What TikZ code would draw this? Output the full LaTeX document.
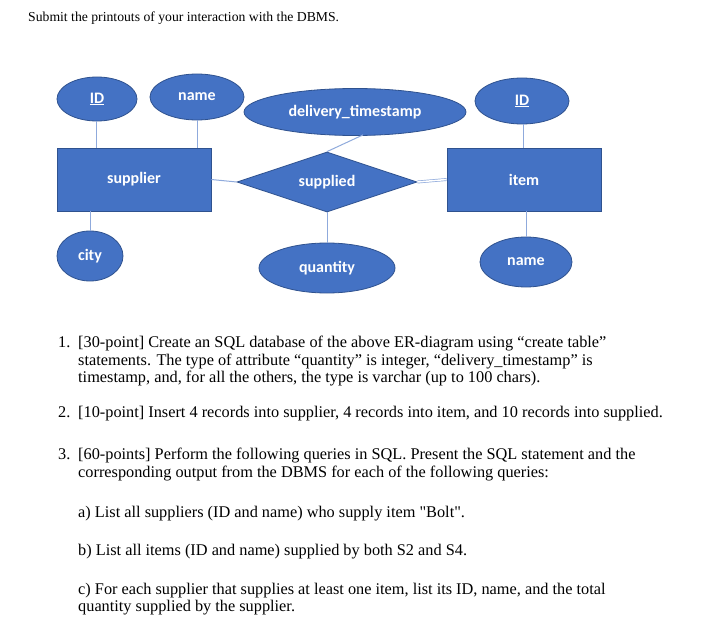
\documentclass[tikz,border=0pt]{standalone}
\usepackage{fontspec}
\setmainfont{Liberation Serif}
\newfontfamily\dfont{Carlito}
\usetikzlibrary{shapes.geometric}
\definecolor{efill}{HTML}{4472C4}
\definecolor{edraw}{HTML}{2F528F}
\definecolor{lnk}{HTML}{8FAADC}
\begin{document}
\begin{tikzpicture}[x=1pt,y=-1pt,
  dtext/.style={font=\dfont\bfseries\fontsize{16}{18}\selectfont},
  attr/.style={ellipse,fill=efill,draw=edraw,line width=0.8pt,text=white,dtext,inner sep=0pt},
  ent/.style={rectangle,fill=efill,draw=edraw,line width=0.8pt,text=white,dtext,minimum width=154pt,minimum height=63pt},
  rel/.style={diamond,fill=efill,draw=edraw,line width=0.8pt,text=white,dtext,minimum width=180pt,minimum height=60pt,aspect=3,inner sep=0pt},
  lk/.style={draw=lnk,line width=1pt},
  txt/.style={anchor=base west,inner sep=0pt,font=\fontsize{16.3}{19}\selectfont}]
\useasboundingbox (0,0) rectangle (721,634);
\fill[white] (0,0) rectangle (721,634);
\node[ent] (sup) at (134,179.5) {supplier};
\node[ent] (item) at (524,179.5) {item};
\node[rel] (rel) at (327,182) {supplied};
\node[attr,minimum width=80pt,minimum height=44pt] (sid) at (97,99) {\underline{ID}};
\node[attr,minimum width=94pt,minimum height=46pt] (sname) at (197,97) {name};
\node[attr,minimum width=222pt,minimum height=47pt] (dts) at (355,112) {delivery\_timestamp};
\node[attr,minimum width=94pt,minimum height=46pt] (iid) at (522,101) {\underline{ID}};
\node[attr,minimum width=66pt,minimum height=50pt] (city) at (90,256) {city};
\node[attr,minimum width=136pt,minimum height=50pt] (qty) at (327,268) {quantity};
\node[attr,minimum width=92pt,minimum height=50pt] (iname) at (526,262) {name};
\draw[lk] (sid.south -| 96,0) -- (sup.north -| 96,0);
\draw[lk] (sname.south) -- (sname.south |- sup.north);
\draw[lk] (iid.south -| 523,0) -- (item.north -| 523,0);
\draw[lk] (city.north) -- (city.north |- sup.south);
\draw[lk] (rel.south) -- (qty.north);
\draw[lk] (iname.north) -- (iname.north |- item.south);
\draw[lk] (dts.south) ++(8,-1) coordinate (dt) (rel.north) -- (dt);
\draw[lk] (sup.east) -- (rel.west);
\draw[lk,double=white,double distance=1.5pt,line width=0.7pt] (rel.east) -- (item.west);
\node[txt,font=\fontsize{13.7}{16}\selectfont] (h) at (28,22) {Submit the printouts of your interaction with the DBMS.};
\node[txt] (n1) at (58,347) {1.};
\node[txt] (l1) at (78,347) {[30-point] Create an SQL database of the above ER-diagram using “create table”};
\node[txt] (l2) at (78,365) {statements. The type of attribute “quantity” is integer, “delivery\_timestamp” is};
\node[txt] (l3) at (78,382) {timestamp, and, for all the others, the type is varchar (up to 100 chars).};
\node[txt] (n2) at (58,417) {2.};
\node[txt] (l4) at (78,417) {[10-point] Insert 4 records into supplier, 4 records into item, and 10 records into supplied.};
\node[txt] (n3) at (58,459) {3.};
\node[txt] (l5) at (78,459) {[60-points] Perform the following queries in SQL. Present the SQL statement and the};
\node[txt] (l6) at (78,477) {corresponding output from the DBMS for each of the following queries:};
\node[txt] (l7) at (78,517) {a) List all suppliers (ID and name) who supply item \textquotedbl Bolt\textquotedbl.};
\node[txt] (l8) at (78,555) {b) List all items (ID and name) supplied by both S2 and S4.};
\node[txt] (l9) at (78,594) {c) For each supplier that supplies at least one item, list its ID, name, and the total};
\node[txt] (l10) at (78,611) {quantity supplied by the supplier.};
\end{tikzpicture}
\end{document}
